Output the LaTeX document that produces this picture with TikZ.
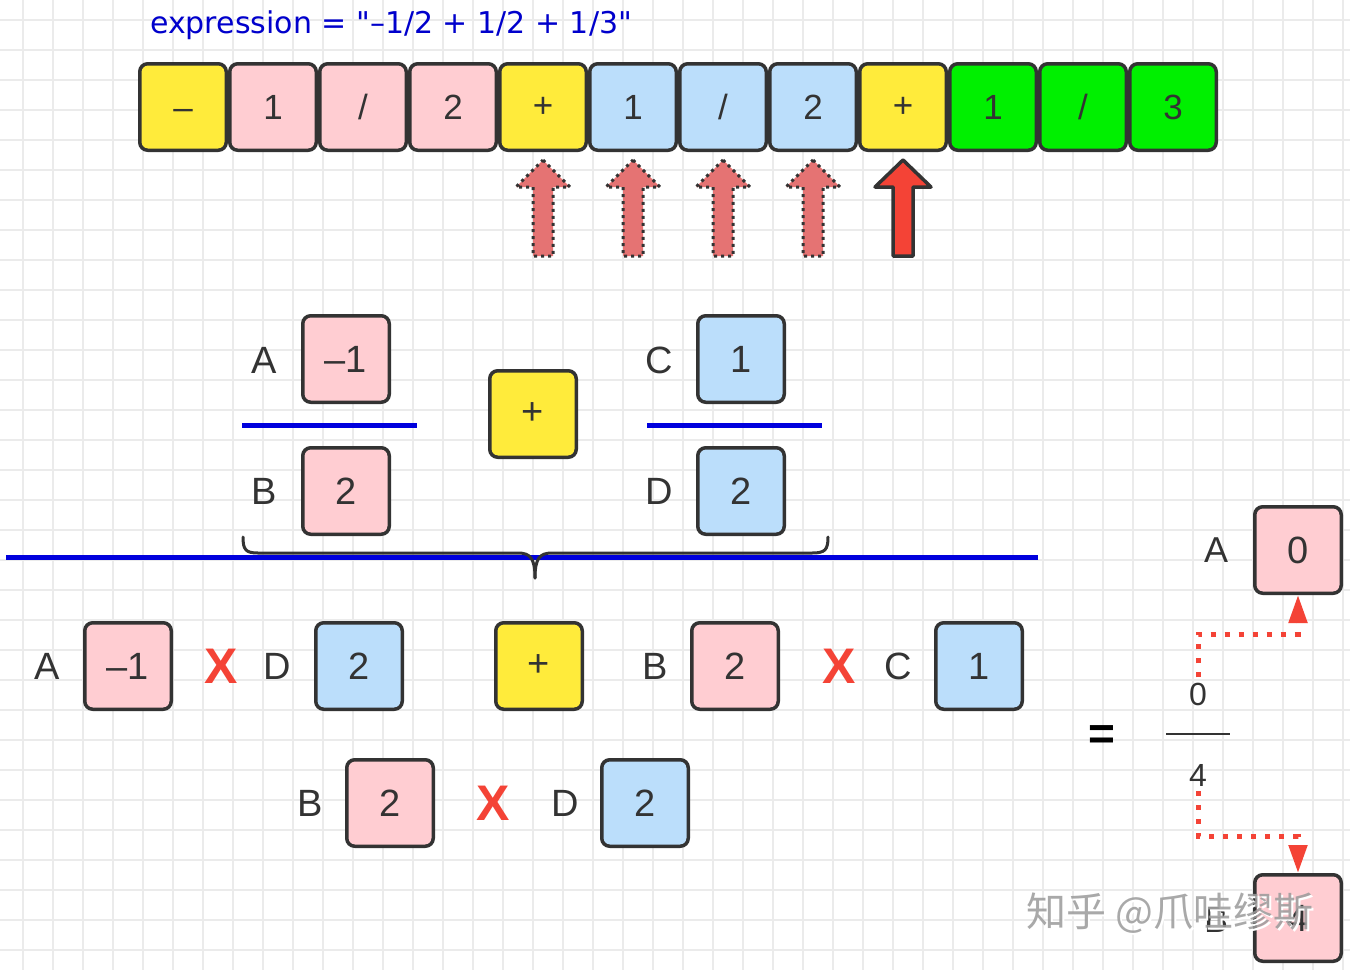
\documentclass[tikz,border=0pt]{standalone}
\usepackage{fontspec}
\setmainfont{Liberation Sans}
\newfontfamily\titlefam{DejaVu Sans}
\newfontfamily\cjkfam{Noto Sans CJK SC}
\usetikzlibrary{arrows.meta}
\definecolor{dk}{HTML}{333333}
\definecolor{gridc}{HTML}{EBEBEB}
\definecolor{yel}{HTML}{FFEB3B}
\definecolor{pnk}{HTML}{FFCDD2}
\definecolor{blu}{HTML}{BBDEFB}
\definecolor{grn}{HTML}{00F000}
\definecolor{tblue}{HTML}{0000CC}
\definecolor{lineblue}{HTML}{0000DD}
\definecolor{xred}{HTML}{F44336}
\definecolor{lred}{HTML}{E57373}
\definecolor{wmgray}{HTML}{9A9A9A}
\newcommand\topfnt{\fontsize{35}{40}\selectfont}
\newcommand\midfnt{\fontsize{38}{44}\selectfont}
\newcommand\xfnt{\fontsize{50}{56}\selectfont\bfseries}
\newcommand\smfnt{\fontsize{32}{36}\selectfont}
\newcommand\rlabfnt{\fontsize{36}{42}\selectfont}
\newcommand\eqfnt{\fontsize{46}{52}\selectfont\bfseries}
\newcommand\ttlfnt{\titlefam\fontsize{30}{34}\selectfont}
\newcommand\wmfnt{\cjkfam\fontsize{40}{46}\selectfont}
\begin{document}
\begin{tikzpicture}[x=1pt,y=-1pt,
  box/.style={draw=dk, line width=3.5pt, rounded corners=8pt, minimum size=86.5pt, inner sep=0pt, text=dk, font=\midfnt},
  tbox/.style={box, font=\topfnt},
  lab/.style={text=dk, font=\midfnt, inner sep=0pt},
  mulx/.style={text=xred, font=\xfnt, inner sep=0pt},
  fracline/.style={lineblue, line width=5pt},
  ptr/.style={fill=lred, draw=dk, line width=3pt, dash pattern=on 3pt off 4pt, line join=round},
  ptrcur/.style={fill=xred, draw=dk, line width=3.5pt, line join=round},
  redlink/.style={xred, line width=5pt, dash pattern=on 5pt off 9pt, -{Triangle[width=18pt,length=28pt]}},
]
\useasboundingbox (0,0) rectangle (1350,970);
\fill[white] (0,0) rectangle (1350,970);
% grid
\foreach \x in {23,53,...,1350} \draw[gridc, line width=1.5pt] (\x,0) -- (\x,970);
\foreach \y in {20,50,...,970} \draw[gridc, line width=1.5pt] (0,\y) -- (1350,\y);

% title
\node[anchor=west, text=tblue, font=\ttlfnt, inner sep=0pt] (title) at (150,25) {expression = "–1/2 + 1/2 + 1/3"};

% top row
\node[tbox, fill=yel] (t1) at (183,107) {\vphantom{1}–};
\node[tbox, fill=pnk] (t2) at (273,107) {1};
\node[tbox, fill=pnk] (t3) at (363,107) {/};
\node[tbox, fill=pnk] (t4) at (453,107) {2};
\node[tbox, fill=yel] (t5) at (543,107) {+};
\node[tbox, fill=blu] (t6) at (633,107) {1};
\node[tbox, fill=blu] (t7) at (723,107) {/};
\node[tbox, fill=blu] (t8) at (813,107) {2};
\node[tbox, fill=yel] (t9) at (903,107) {+};
\node[tbox, fill=grn] (t10) at (993,107) {1};
\node[tbox, fill=grn] (t11) at (1083,107) {/};
\node[tbox, fill=grn] (t12) at (1173,107) {3};

% pointer arrows
\foreach \cx in {543,633,723,813}
  \draw[ptr] (\cx,160) -- (\cx+27,187) -- (\cx+10,187) -- (\cx+10,256) -- (\cx-10,256) -- (\cx-10,187) -- (\cx-27,187) -- cycle;
\draw[ptrcur] (903,160) -- (931,187) -- (913,187) -- (913,256) -- (893,256) -- (893,187) -- (875,187) -- cycle;

% middle fractions
\node[lab] (la1) at (264,360) {A};
\node[box, fill=pnk] (a1) at (346,359) {–1};
\draw[fracline] (242,425) -- (417,425);
\node[lab] (lb1) at (264,491) {B};
\node[box, fill=pnk] (b1) at (346,491) {2};
\node[box, fill=yel] (p1) at (533,414) {+};
\node[lab] (lc1) at (659,360) {C};
\node[box, fill=blu] (c1) at (741,359) {1};
\draw[fracline] (647,425) -- (822,425);
\node[lab] (ld1) at (659,491) {D};
\node[box, fill=blu] (d1) at (741,491) {2};

% big line and brace
\draw[fracline] (6,557) -- (1038,557);
\draw[dk, line width=3pt, line cap=round, line join=round]
  (243,537) .. controls (243,550) and (246,553) .. (258,553) -- (518,553)
  .. controls (530,553) and (535,558) .. (535,578);
\draw[dk, line width=3pt, line cap=round, line join=round]
  (828,537) .. controls (828,550) and (825,553) .. (812,553) -- (552,553)
  .. controls (540,553) and (535,558) .. (535,578);

% row 3
\node[lab] (la2) at (47,666) {A};
\node[box, fill=pnk] (a2) at (128,666) {–1};
\node[mulx] (x1) at (221,666) {X};
\node[lab] (ld2) at (277,666) {D};
\node[box, fill=blu] (d2) at (359,666) {2};
\node[box, fill=yel] (p2) at (539,666) {+};
\node[lab] (lb2) at (655,666) {B};
\node[box, fill=pnk] (b2) at (735,666) {2};
\node[mulx] (x2) at (839,666) {X};
\node[lab] (lc2) at (898,666) {C};
\node[box, fill=blu] (c2) at (979,666) {1};

% row 4
\node[lab] (lb3) at (310,803) {B};
\node[box, fill=pnk] (b3) at (390,803) {2};
\node[mulx] (x3) at (493,803) {X};
\node[lab] (ld3) at (565,803) {D};
\node[box, fill=blu] (d3) at (645,803) {2};

% result
\node[text=black, font=\eqfnt, inner sep=0pt] (eq) at (1102,738) {=};
\node[text=dk, font=\smfnt, inner sep=5pt] (n0) at (1198,694) {0};
\draw[dk, line width=2pt] (1166,734) -- (1230,734);
\node[text=dk, font=\smfnt, inner sep=5pt] (n4) at (1198,775) {4};
\node[lab, font=\rlabfnt] (la3) at (1216,550) {A};
\node[box, fill=pnk] (a3) at (1298,550) {0};
\node[lab, font=\rlabfnt] (lb4) at (1216,920) {B};
\node[box, fill=pnk] (b4) at (1298,918) {4};
\coordinate (k1) at (1198,634);
\coordinate (k2) at (1198,836);
\draw[redlink] (n0.north) -- (k1) -| (a3.south);
\draw[redlink] (n4.south) -- (k2) -| (b4.north);

% watermark
\node[font=\wmfnt, text=white, inner sep=0pt] at (1172,915) {知乎 @爪哇缪斯};
\node[font=\wmfnt, text=wmgray, opacity=0.85, inner sep=0pt] (wm) at (1170,913) {知乎 @爪哇缪斯};
\end{tikzpicture}
\end{document}
